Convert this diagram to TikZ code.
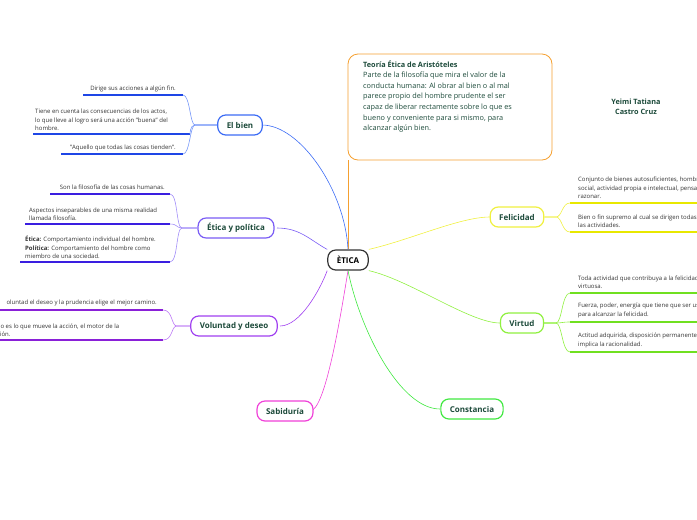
\documentclass[tikz,border=0pt]{standalone}
\usepackage{fontspec}
\setmainfont{Open Sans}
\begin{document}
\begin{tikzpicture}[x=1pt,y=-1pt,
 topic/.style={draw,rounded corners=8pt,line width=1.2pt,font=\bfseries\fontsize{8}{10}\selectfont,text=tgreen,minimum height=20pt,inner xsep=9pt,fill=white},
 leaf/.style={font=\fontsize{6}{8.5}\selectfont,text=black!80,align=left,inner sep=0pt},
 ul/.style={line width=1.3pt},
 cn/.style={line width=0.6pt}]
\definecolor{tgreen}{HTML}{1C4A3A}
\definecolor{cblue}{HTML}{3C6CF5}\definecolor{dblue}{HTML}{1E46E6}
\definecolor{cpurp}{HTML}{7A5CF5}\definecolor{dpurp}{HTML}{3A1EE0}
\definecolor{cviol}{HTML}{A040F0}\definecolor{dviol}{HTML}{8A20D8}
\definecolor{cmag}{HTML}{F040D8}
\definecolor{cgreen}{HTML}{40E840}
\definecolor{clgreen}{HTML}{90F040}\definecolor{dlgreen}{HTML}{70E020}
\definecolor{cyel}{HTML}{F0F040}\definecolor{dyel}{HTML}{E8E800}
\definecolor{corange}{HTML}{F5A030}
\useasboundingbox (0,0) rectangle (697,520);
% main connectors
\node[topic,draw=black!80,text=black] (c) at (348,260) {ÈTICA};
\draw[corange,cn] (c.north) -- (348,160) coordinate (tb);
\draw[cblue,cn] (c.north) .. controls (345,190) and (300,125) .. (262,125) coordinate (b1);
\draw[cpurp,cn] (c.north west) .. controls (310,240) and (300,228) .. (277,228) coordinate (b2);
\draw[cviol,cn] (c.south west) .. controls (320,290) and (300,326) .. (280,326) coordinate (b3);
\draw[cmag,cn] (c.south) .. controls (340,320) and (325,411) .. (310,411) coordinate (b4);
\draw[cgreen,cn] (c.south) .. controls (360,330) and (400,409) .. (440,409) coordinate (b5);
\draw[clgreen,cn] (c.south east) .. controls (410,280) and (470,323) .. (500,323) coordinate (b6);
\draw[cyel,cn] (c.north east) .. controls (410,240) and (460,217) .. (490,217) coordinate (b7);
% teoria box
\draw[corange,line width=0.8pt,rounded corners=10pt] (348,54) rectangle (552,160);
\node[anchor=north west,font=\fontsize{7.3}{10.6}\selectfont,text=tgreen,align=left,inner sep=0pt] (teo) at (363,60) {\textbf{Teoría Ética de Aristóteles}\\Parte de la filosofía que mira el valor de la\\conducta humana: Al obrar al bien o al mal\\parece propio del hombre prudente el ser\\capaz de liberar rectamente sobre lo que es\\bueno y conveniente para si mismo, para\\alcanzar algún bien.};
\node[font=\bfseries\fontsize{7.3}{9.5}\selectfont,text=tgreen,align=center] (au) at (636,107) {Yeimi Tatiana\\Castro Cruz};
% El bien
\node[topic,draw=cblue] (eb) at (240,125) {El bien};
\node[leaf,anchor=south east] (l11) at (176,92) {Dirige sus acciones a algún fin.};
\node[leaf,anchor=south west] (l12) at (35,131) {Tiene en cuenta las consecuencias de los actos,\\lo que lleve al logro será una acción "buena" del\\hombre.};
\node[leaf,anchor=south east] (l13) at (176,151) {"Aquello que todas las cosas tienden".};
\coordinate (u11) at (183,95); \coordinate (u12) at (190,134); \coordinate (u13) at (183,154);
\draw[dblue,ul] (83,95) -- (u11); \draw[dblue,ul] (33,134) -- (u12); \draw[dblue,ul] (61,154) -- (u13);
\foreach \u in {u11,u12,u13} \draw[cblue!70,cn] (eb.west) -- (195,125) .. controls (190,125) and (190,0|-\u) .. (\u);
% Etica y politica
\node[topic,draw=cpurp] (ep) at (236,228) {Ética y política};
\node[leaf,anchor=south east] (l21) at (165,190) {Son la filosofía de las cosas humanas.};
\node[leaf,anchor=south west] (l22) at (29,221) {Aspectos inseparables de una misma realidad\\llamada filosofía.};
\node[leaf,anchor=south west] (l23) at (25,259) {\textbf{Ética:} Comportamiento individual del hombre.\\\textbf{Política:} Comportamiento del hombre como\\miembro de una sociedad.};
\coordinate (u21) at (170,194); \coordinate (u22) at (170,224); \coordinate (u23) at (170,262);
\draw[dpurp,ul] (50,194) -- (u21); \draw[dpurp,ul] (25,224) -- (u22); \draw[dpurp,ul] (20,262) -- (u23);
\foreach \u in {u21,u22,u23} \draw[cpurp!70,cn] (ep.west) -- (182,228) .. controls (176,228) and (178,0|-\u) .. (\u);
% Voluntad y deseo
\node[topic,draw=cviol] (vd) at (234,326) {Voluntad y deseo};
\node[leaf,anchor=south east] (l31) at (157,306) {oluntad el deseo y la prudencia elige el mejor camino.};
\node[leaf,anchor=south west] (l32) at (-3,337) {eo es lo que mueve la acción, el motor de la\\ción.};
\coordinate (u31) at (163,310); \coordinate (u32) at (163,340);
\draw[dviol,ul] (0,310) -- (u31); \draw[dviol,ul] (0,340) -- (u32);
\foreach \u in {u31,u32} \draw[cviol!70,cn] (vd.west) -- (177,326) .. controls (171,326) and (173,0|-\u) .. (\u);
% Sabiduria, Constancia
\node[topic,draw=cmag] (sa) at (285,411) {Sabiduría};
\node[topic,draw=cgreen] (co) at (472,409) {Constancia};
% Felicidad
\node[topic,draw=cyel] (fe) at (517,217) {Felicidad};
\node[leaf,anchor=south west] (l41) at (578,199) {Conjunto de bienes autosuficientes, hombre\\social, actividad propia e intelectual, pensar y\\razonar.};
\node[leaf,anchor=south west] (l42) at (578,228) {Bien o fin supremo al cual se dirigen todas\\las actividades.};
\coordinate (u41) at (570,203); \coordinate (u42) at (570,232);
\draw[dyel,ul] (u41) -- (700,203); \draw[dyel,ul] (u42) -- (700,232);
\foreach \u in {u41,u42} \draw[cyel,cn] (fe.east) -- (556,217) .. controls (562,217) and (562,0|-\u) .. (\u);
% Virtud
\node[topic,draw=clgreen] (vi) at (522,323) {Virtud};
\node[leaf,anchor=south west] (l51) at (578,289) {Toda actividad que contribuya a la felicidad es\\virtuosa.};
\node[leaf,anchor=south west] (l52) at (578,318) {Fuerza, poder, energía que tiene que ser usada\\para alcanzar la felicidad.};
\node[leaf,anchor=south west] (l53) at (578,348) {Actitud adquirida, disposición permanente que\\implica la racionalidad.};
\coordinate (u51) at (570,293); \coordinate (u52) at (570,322); \coordinate (u53) at (570,352);
\draw[dlgreen,ul] (u51) -- (700,293); \draw[dlgreen,ul] (u52) -- (700,322); \draw[dlgreen,ul] (u53) -- (700,352);
\foreach \u in {u51,u52,u53} \draw[clgreen,cn] (vi.east) -- (556,323) .. controls (562,323) and (562,0|-\u) .. (\u);
\end{tikzpicture}
\end{document}
